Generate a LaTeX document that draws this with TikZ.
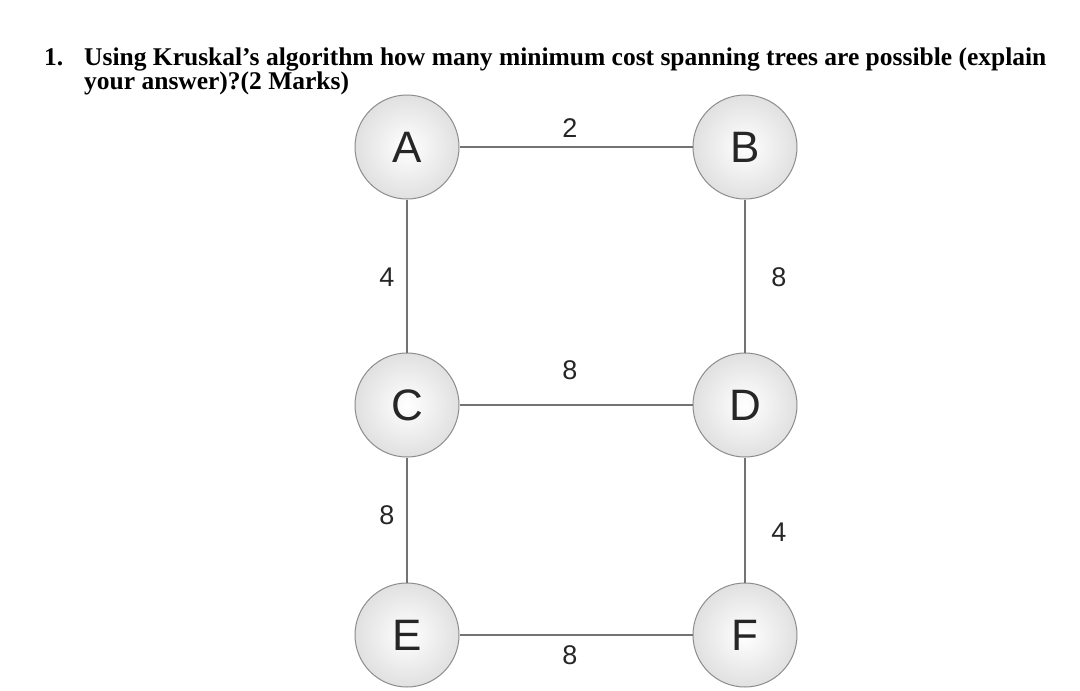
\documentclass[tikz,border=0pt]{standalone}
\usepackage{fontspec}
\setmainfont{Liberation Serif}
\newfontfamily\lsans{Liberation Sans}
\begin{document}
\begin{tikzpicture}[x=1pt,y=-1pt,
  vtx/.style={circle,draw=black!45,line width=1pt,inner color=white,outer color=black!12,minimum size=104pt,inner sep=0pt,font=\lsans\fontsize{44}{44}\selectfont,text=black!85},
  edge/.style={draw=black!55,line width=1.2pt},
  wt/.style={font=\lsans\fontsize{27}{27}\selectfont,text=black!85}]
\useasboundingbox (0,0) rectangle (1080,691);
\node[anchor=base west,font=\bfseries\fontsize{25.5}{25}\selectfont,inner sep=0pt] (t1) at (44,65) {1.};
\node[anchor=base west,font=\bfseries\fontsize{25.5}{25}\selectfont,inner sep=0pt] (t2) at (84,65) {Using Kruskal’s algorithm how many minimum cost spanning trees are possible (explain};
\node[anchor=base west,font=\bfseries\fontsize{25.5}{25}\selectfont,inner sep=0pt] (t3) at (84,89) {your answer)?(2 Marks)};
\node[vtx] (A) at (407,147) {A};
\node[vtx] (B) at (745,147) {B};
\node[vtx] (C) at (407,405) {C};
\node[vtx] (D) at (745,405) {D};
\node[vtx] (E) at (407,635) {E};
\node[vtx] (F) at (745,635) {F};
\draw[edge] (A) -- (B);
\draw[edge] (A) -- (C);
\draw[edge] (B) -- (D);
\draw[edge] (C) -- (D);
\draw[edge] (C) -- (E);
\draw[edge] (D) -- (F);
\draw[edge] (E) -- (F);
\node[wt] (w1) at (570,128) {2};
\node[wt] (w2) at (387,277) {4};
\node[wt] (w3) at (779,277) {8};
\node[wt] (w4) at (570,370) {8};
\node[wt] (w5) at (387,515) {8};
\node[wt] (w6) at (779,532) {4};
\node[wt] (w7) at (570,655) {8};
\end{tikzpicture}
\end{document}
